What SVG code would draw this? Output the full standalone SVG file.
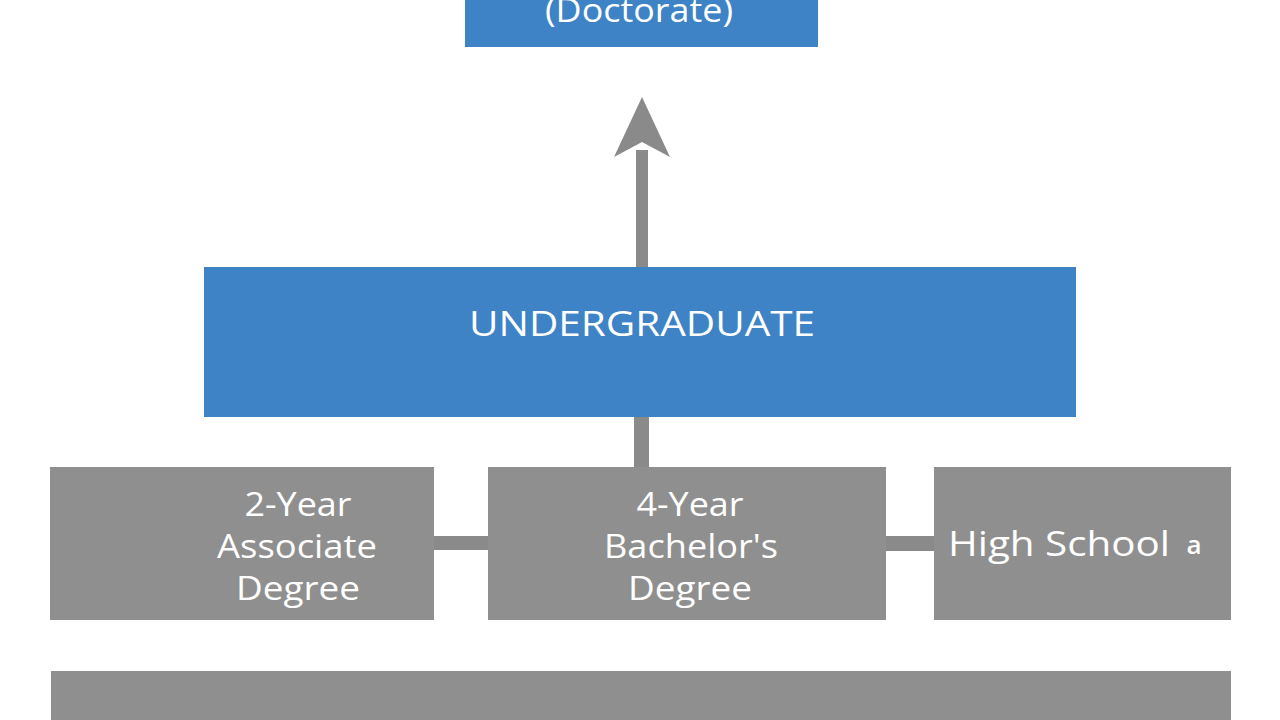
<svg xmlns="http://www.w3.org/2000/svg" width="1280" height="720" viewBox="0 0 1280 720">
<style>
.blue{fill:#3d83c5}
.gray{fill:#8f8f8f}
.conn{fill:#8a8a8a}
text{font-family:"Open Sans","Noto Sans","Liberation Sans",sans-serif;fill:#ffffff;text-anchor:middle}
.t32{font-size:33px}
.t34{font-size:34px}
</style>
<rect width="1280" height="720" fill="#ffffff"/>
<g id="connectors">
<rect class="conn" x="636" y="150" width="12" height="118"/>
<polygon class="conn" points="642,97 670,157 642,142 614,157"/>
<rect class="conn" x="634" y="416" width="15" height="52"/>
<rect class="conn" x="433" y="536" width="56" height="14"/>
<rect class="conn" x="885" y="536" width="50" height="15"/>
</g>
<g id="doctorate">
<rect class="blue" x="465" y="-10" width="353" height="57"/>
<text class="t32" x="639" y="22" textLength="188" lengthAdjust="spacingAndGlyphs">(Doctorate)</text>
</g>
<g id="undergraduate">
<rect class="blue" x="204" y="267" width="872" height="150"/>
<text class="t34" x="642" y="336" textLength="346" lengthAdjust="spacingAndGlyphs">UNDERGRADUATE</text>
</g>
<g id="associate">
<rect class="gray" x="50" y="467" width="384" height="153"/>
<text class="t32" x="298" y="516" textLength="107" lengthAdjust="spacingAndGlyphs">2-Year</text>
<text class="t32" x="297" y="558" textLength="160" lengthAdjust="spacingAndGlyphs">Associate</text>
<text class="t32" x="298" y="600" textLength="124" lengthAdjust="spacingAndGlyphs">Degree</text>
</g>
<g id="bachelor">
<rect class="gray" x="488" y="467" width="398" height="153"/>
<text class="t32" x="690" y="516" textLength="107" lengthAdjust="spacingAndGlyphs">4-Year</text>
<text class="t32" x="691" y="558" textLength="174" lengthAdjust="spacingAndGlyphs">Bachelor's</text>
<text class="t32" x="690" y="600" textLength="124" lengthAdjust="spacingAndGlyphs">Degree</text>
</g>
<g id="highschool">
<rect class="gray" x="934" y="467" width="297" height="153"/>
<text class="t34" x="1059" y="556" textLength="222" lengthAdjust="spacingAndGlyphs">High School</text>
<text x="1194" y="554" style="font-size:26px;font-weight:600">a</text>
</g>
<g id="base">
<rect class="gray" x="51" y="671" width="1180" height="60"/>
</g>
</svg>
